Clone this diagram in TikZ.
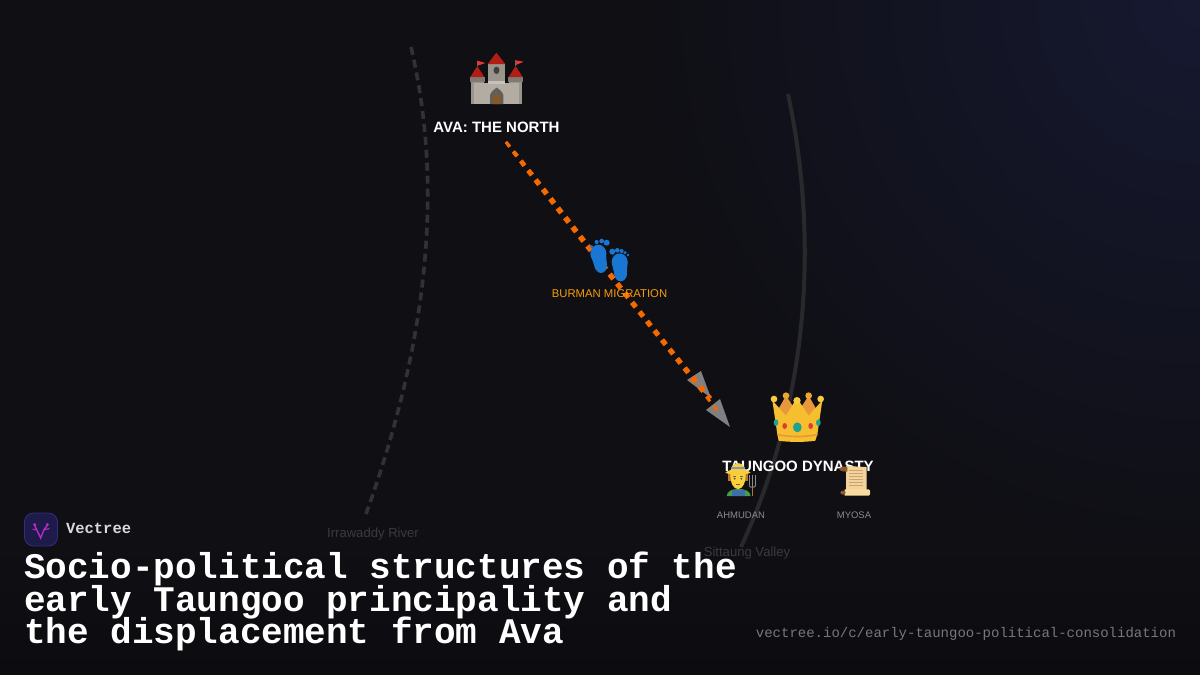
\documentclass[tikz,border=0pt]{standalone}
\usepackage{fontspec}
\setmainfont{Liberation Sans}
\setmonofont{Liberation Mono}
\definecolor{bgbase}{HTML}{0F0F14}
\definecolor{bgnavy}{HTML}{161931}
\definecolor{bgdark}{HTML}{0C0C10}
\definecolor{flow}{HTML}{F56A00}
\definecolor{tipgray}{HTML}{808080}
\definecolor{riverA}{HTML}{313136}
\definecolor{riverB}{HTML}{29292C}
\definecolor{amberlab}{HTML}{F59E0B}
\definecolor{sublab}{HTML}{8A8A8F}
\definecolor{dimlab}{HTML}{3A3A3F}
\definecolor{urlgray}{HTML}{77777C}
\definecolor{footblue}{HTML}{1976D2}
\definecolor{gold}{HTML}{F6BF2F}
\definecolor{goldback}{HTML}{E8983A}
\definecolor{goldlite}{HTML}{F9CB3E}
\definecolor{castred}{HTML}{B01E16}
\definecolor{stone}{HTML}{B3ACA3}
\definecolor{stonedk}{HTML}{9A948B}
\definecolor{stonecr}{HTML}{7F7A73}
\definecolor{paper}{HTML}{F3D39A}
\definecolor{paperline}{HTML}{C9A572}
\definecolor{roll}{HTML}{F8DCA0}
\definecolor{curl}{HTML}{8D5A2B}
\definecolor{teal1}{HTML}{1FA38F}
\definecolor{ruby}{HTML}{E53935}
\definecolor{facey}{HTML}{FBD13A}
\definecolor{hatbrown}{HTML}{B5752A}
\definecolor{shirtg}{HTML}{43A047}
\definecolor{bibblue}{HTML}{3F6FA8}
\definecolor{forkg}{HTML}{8C8C8C}
\definecolor{logofill}{HTML}{1E1B4B}
\definecolor{logoedge}{HTML}{312E81}
\definecolor{logomark}{HTML}{B52BC9}
\tikzset{
  base/.style={inner sep=0pt,outer sep=0pt,anchor=base},
  mainlab/.style={base,text=white,font=\fontsize{15}{15}\selectfont\bfseries},
  minilab/.style={base,text=sublab,font=\fontsize{9.5}{10}\selectfont},
  migrlab/.style={base,text=amberlab,font=\fontsize{11.3}{11}\selectfont},
  riverlab/.style={base,text=dimlab,font=\fontsize{13.1}{13}\selectfont},
  titlelab/.style={inner sep=0pt,outer sep=0pt,anchor=base west,text=white,font=\fontsize{36}{36}\ttfamily\bfseries\selectfont},
  flowline/.style={draw=flow,line width=3pt,dash pattern=on 6pt off 6pt},
  tiphead/.style={fill=tipgray,draw=none},
  zoomed/.style={x=0.33333pt,y=-0.33333pt}
}
\begin{document}
\begin{tikzpicture}[x=1pt,y=-1pt]
\useasboundingbox (0,0) rectangle (1200,675);
\fill[bgbase] (0,0) rectangle (1200,675);
\begin{scope}
\clip (0,0) rectangle (1200,675);
\shade[inner color=bgnavy,outer color=bgbase] (1200,0) circle (560);
\shade[top color=bgbase,bottom color=bgdark,draw=none] (0,540) rectangle (1200,675);
\end{scope}

% rivers
\coordinate (irrS) at (411,47);
\coordinate (irrE) at (366,514);
\coordinate (sitS) at (788,94);
\coordinate (sitE) at (741,547);
\draw[riverA,line width=3.6pt,dash pattern=on 8pt off 5pt] (irrS) .. controls (435,150) and (443,300) .. (irrE);
\draw[riverB,line width=4pt] (sitS) .. controls (819,240) and (809,400) .. (sitE);

% arrows
\coordinate (flowS) at (506,142);
\coordinate (tipA) at (711,398);
\coordinate (tipB) at (730,427);
\coordinate (endB) at (717,410);
\fill[tiphead] (701,371) -- (687,380) -- (tipA) -- cycle;
\fill[tiphead] (720,399) -- (706,410) -- (tipB) -- cycle;
\draw[flowline] (flowS) .. controls (537,177) and (637,310) .. (tipA);
\draw[flowline] (flowS) .. controls (526,171) and (632,305) .. (endB);

% labels
\node[mainlab] (ava) at (496.5,132) {AVA: THE NORTH};
\node[mainlab] (taungoo) at (798,471) {TAUNGOO DYNASTY};
\node[migrlab] (burman) at (609.5,297) {BURMAN MIGRATION};
\node[minilab] (ahmudan) at (741,518) {AHMUDAN};
\node[minilab] (myosa) at (854,518) {MYOSA};
\node[riverlab] (irrl) at (373,537) {Irrawaddy River};
\node[riverlab] (sitl) at (747,556) {Sittaung Valley};

% castle
\begin{scope}[shift={(460,45)},zoomed]
\fill[stonedk] (84,57) rectangle (135,115);
\fill[castred] (109,23) -- (83,57) -- (136,57) -- cycle;
\fill[black!75,rounded corners=3pt] (101,87) rectangle (118,65);
\fill[stonedk] (32,95) rectangle (72,177);
\fill[stonedk] (147,95) rectangle (187,177);
\fill[stone] (42,113) rectangle (177,177);
\fill[stonecr] (30,95) rectangle (74,110);
\fill[stonecr] (145,95) rectangle (189,110);
\fill[castred] (52,63) -- (31,96) -- (73,96) -- cycle;
\fill[castred] (167,63) -- (146,96) -- (188,96) -- cycle;
\draw[black!60,line width=.5pt] (52,64) -- (52,47);
\draw[black!60,line width=.5pt] (167,62) -- (167,46);
\fill[ruby] (52,47) -- (76,54) -- (53,62) -- cycle;
\fill[ruby] (167,46) -- (191,50) -- (168,60) -- cycle;
\fill[stone!55!black] (90,177) -- (90,150) .. controls (93,140) and (104,132) .. (110,128) .. controls (117,132) and (127,140) .. (130,150) -- (130,177) -- cycle;
\fill[brown!70!black] (98,177) -- (98,155) .. controls (102,145) and (118,145) .. (122,155) -- (122,177) -- cycle;
\fill[stone!75!white] (84,108) rectangle (135,118);
\end{scope}

% feet
\begin{scope}[shift={(580,232)},zoomed]
\fill[footblue] (55,65) ellipse [x radius=24,y radius=27];
\fill[footblue] (63,100) ellipse [x radius=18,y radius=23];
\fill[footblue] (33,70) -- (46,112) -- (80,95) -- (78,60) -- cycle;
\fill[footblue] (119,90) ellipse [x radius=24,y radius=26];
\fill[footblue] (122,125) ellipse [x radius=19,y radius=23];
\fill[footblue] (96,95) -- (104,130) -- (140,125) -- (143,88) -- cycle;
\fill[footblue] (35,44) circle (5);
\fill[footblue] (50,30) circle (6);
\fill[footblue] (65,27) circle (7);
\fill[footblue] (80,32) circle (9);
\fill[footblue] (97,59) circle (9);
\fill[footblue] (112,55) circle (7);
\fill[footblue] (125,57) circle (6);
\fill[footblue] (135,62) circle (5);
\fill[footblue] (144,69) circle (4);
\end{scope}

% crown
\begin{scope}[shift={(762,385)},zoomed]
\fill[goldback] (46,78) -- (72,32) -- (100,75) -- (112,75) -- (140,32) -- (166,78) -- (160,115) -- (52,115) -- cycle;
\fill[gold] (31,46) -- (72,92) -- (99,48) -- (111,48) -- (140,92) -- (181,46) -- (166,148) .. controls (130,156) and (80,156) .. (46,148) -- cycle;
\fill[goldlite] (36,42) circle (10);
\fill[goldlite] (105,47) circle (11);
\fill[goldlite] (176,42) circle (10);
\fill[goldback!85!yellow] (72,32) circle (10);
\fill[goldback!85!yellow] (140,32) circle (10);
\fill[teal1] (42,113) ellipse [x radius=7,y radius=10];
\fill[teal1] (169,113) ellipse [x radius=7,y radius=10];
\fill[teal1] (106,127) ellipse [x radius=13,y radius=15];
\fill[ruby] (68,123) ellipse [x radius=7,y radius=9];
\fill[ruby] (146,123) ellipse [x radius=7,y radius=9];
\fill[gold] (46,148) .. controls (80,156) and (130,156) .. (166,148) -- (160,167) .. controls (130,172) and (80,172) .. (50,167) -- cycle;
\fill[goldback] (45,146) .. controls (80,154) and (130,154) .. (167,146) -- (167,151) .. controls (130,159) and (80,159) .. (46,151) -- cycle;
\end{scope}

% farmer
\begin{scope}[shift={(718,458)},zoomed]
\fill[shirtg] (26,114) .. controls (28,100) and (40,93) .. (60,93) .. controls (84,93) and (96,100) .. (98,114) -- cycle;
\fill[bibblue] (42,114) rectangle (82,96);
\fill[hatbrown] (30,42) rectangle (40,70);
\fill[hatbrown] (80,42) rectangle (90,70);
\fill[facey] (37,42) .. controls (36,76) and (46,93) .. (60,93) .. controls (74,93) and (84,76) .. (83,42) -- cycle;
\fill[black!70] (50,62) circle (3);
\fill[black!70] (70,62) circle (3);
\draw[black!60,line width=.6pt] (46,54) -- (54,54) (66,54) -- (74,54);
\draw[black!60,line width=.6pt] (53,79) -- (67,79);
\fill[goldlite] (22,44) .. controls (36,30) and (84,30) .. (98,44) .. controls (84,52) and (36,52) .. (22,44) -- cycle;
\fill[goldlite] (38,38) .. controls (40,8) and (80,8) .. (82,38) -- cycle;
\fill[bibblue!70!white] (38,26) rectangle (82,32);
\draw[forkg,line width=.9pt] (93,50) -- (93,82) (103,50) -- (103,88) (113,50) -- (113,82);
\draw[forkg,line width=.9pt] (93,82) .. controls (93,90) and (113,90) .. (113,82);
\draw[hatbrown,line width=1pt] (103,88) -- (103,114);
\end{scope}

% scroll
\begin{scope}[shift={(832,458)},zoomed]
\fill[paper] (42,24) -- (104,27) -- (104,100) -- (42,100) -- cycle;
\fill[curl] (21,33) .. controls (26,25) and (38,25) .. (46,26) -- (46,41) .. controls (38,41) and (26,41) .. (21,33) -- cycle;
\draw[paperline,line width=.5pt] (52,38) -- (94,38) (52,47) -- (94,47) (52,56) -- (94,56) (52,65) -- (94,65) (52,74) -- (94,74) (52,83) -- (94,83);
\fill[roll] (38,94) -- (110,94) .. controls (116,94) and (116,113) .. (110,113) -- (38,113) -- cycle;
\fill[curl] (33,104) ellipse [x radius=8,y radius=6];
\end{scope}

% logo
\node[draw=logoedge,fill=logofill,line width=.8pt,rounded corners=9pt,minimum width=33pt,minimum height=33pt,inner sep=0pt] (logo) at (41,529.5) {};
\begin{scope}[shift={(20,508)},zoomed]
\draw[logomark,line width=1.4pt] (44,52) -- (50,65) -- (62,90) -- (72,65) -- (82,52);
\draw[logomark,line width=1.2pt] (38,64) -- (50,65) (88,62) -- (72,65);
\fill[logomark] (44,50) circle (5);
\fill[logomark] (82,50) circle (5);
\end{scope}
\node[base,anchor=base west,text=white!85!black,font=\fontsize{15.5}{16}\ttfamily\bfseries\selectfont] (brand) at (66,533) {Vectree};

% title
\node[titlelab] (t1) at (24,578.5) {Socio-political structures of the};
\node[titlelab] (t2) at (24,611) {early Taungoo principality and};
\node[titlelab] (t3) at (24,643.5) {the displacement from Ava};
\node[base,anchor=base east,text=urlgray,font=\fontsize{14}{14}\ttfamily\selectfont] (url) at (1176,637) {vectree.io/c/early-taungoo-political-consolidation};
\end{tikzpicture}
\end{document}
